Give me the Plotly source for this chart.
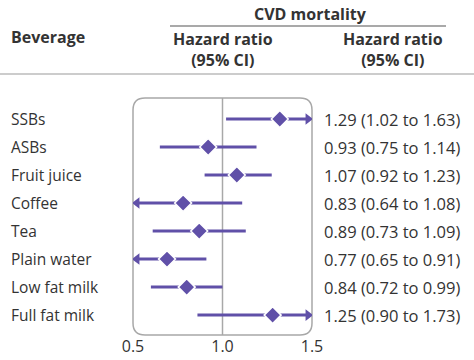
import plotly.graph_objects as go

beverages = ["SSBs", "ASBs", "Fruit juice", "Coffee", "Tea", "Plain water", "Low fat milk", "Full fat milk"]
# plotted positions
hr_point = [1.32, 0.92, 1.08, 0.78, 0.87, 0.69, 0.80, 1.28]
ci_low = [1.02, 0.65, 0.90, 0.45, 0.61, 0.45, 0.60, 0.86]
ci_high = [1.63, 1.19, 1.275, 1.11, 1.13, 0.91, 1.00, 1.73]
# text column
hr_text = ["1.29 (1.02 to 1.63)", "0.93 (0.75 to 1.14)", "1.07 (0.92 to 1.23)", "0.83 (0.64 to 1.08)",
           "0.89 (0.73 to 1.09)", "0.77 (0.65 to 0.91)", "0.84 (0.72 to 0.99)", "1.25 (0.90 to 1.73)"]
x_ticks = [0.5, 1.0, 1.5]
x_tick_labels = ["0.5", "1.0", "1.5"]
x_min, x_max = 0.5, 1.5

PURPLE = "#6050a8"
GRAY = "#a8a8a8"
TEXT = "#333333"
FONT = "Open Sans"

W, H = 474, 360
L, R, T, B = 133, 162, 98, 25
pw, ph = W - L - R, H - T - B

def px(xp):
    return (xp - L) / pw

def py(yp):
    return (H - B - yp) / ph

fig = go.Figure()
ys = list(range(len(beverages)))

for i, b in enumerate(beverages):
    lo = max(ci_low[i], x_min)
    hi = min(ci_high[i], x_max)
    x0 = lo + (0.025 if ci_low[i] < x_min else 0)
    x1 = hi - (0.025 if ci_high[i] > x_max else 0)
    fig.add_trace(go.Scatter(x=[x0, x1], y=[i, i], mode="lines",
                             line=dict(color=PURPLE, width=3), showlegend=False, hoverinfo="skip"))
    if ci_low[i] < x_min:
        fig.add_trace(go.Scatter(x=[x_min + 0.022], y=[i], mode="markers",
                                 marker=dict(symbol="triangle-left", size=10, color=PURPLE, line=dict(width=0)),
                                 showlegend=False, hoverinfo="skip"))
    if ci_high[i] > x_max:
        fig.add_trace(go.Scatter(x=[x_max - 0.022], y=[i], mode="markers",
                                 marker=dict(symbol="triangle-right", size=10, color=PURPLE, line=dict(width=0)),
                                 showlegend=False, hoverinfo="skip"))

fig.add_trace(go.Scatter(x=hr_point, y=ys, mode="markers",
                         marker=dict(symbol="diamond", size=13, color=PURPLE, line=dict(color="white", width=1.5)),
                         showlegend=False, hoverinfo="skip"))

# reference line at 1.0
fig.add_shape(type="line", xref="x", yref="paper", x0=1.0, x1=1.0, y0=0, y1=1,
              line=dict(color=GRAY, width=1.5), layer="below")

# rounded box
rx, ry = 12 / pw, 12 / ph
path = (f"M {rx},0 L {1-rx},0 Q 1,0 1,{ry} L 1,{1-ry} Q 1,1 {1-rx},1 "
        f"L {rx},1 Q 0,1 0,{1-ry} L 0,{ry} Q 0,0 {rx},0 Z")
fig.add_shape(type="path", xref="paper", yref="paper", path=path,
              line=dict(color=GRAY, width=1.5), layer="below")

# header lines
fig.add_shape(type="line", xref="paper", yref="paper", x0=px(170), x1=px(446), y0=py(26), y1=py(26),
              line=dict(color="#555555", width=1.2))
fig.add_shape(type="line", xref="paper", yref="paper", x0=px(0), x1=px(474), y0=py(74), y1=py(74),
              line=dict(color="#bbbbbb", width=1.5))

ann = []
for i, b in enumerate(beverages):
    ann.append(dict(x=px(9), y=i, xref="paper", yref="y", text=b, xanchor="left", yanchor="middle",
                    showarrow=False, font=dict(family=FONT, size=15.5, color=TEXT)))
    ann.append(dict(x=px(322), y=i, xref="paper", yref="y", text=hr_text[i], xanchor="left", yanchor="middle",
                    showarrow=False, font=dict(family=FONT, size=16.5, color=TEXT)))

hdr = dict(family=FONT, size=16, color=TEXT)
ann.append(dict(x=px(9), y=py(37), xref="paper", yref="paper", text="<b>Beverage</b>", xanchor="left",
                yanchor="middle", showarrow=False, font=hdr))
ann.append(dict(x=px(310), y=py(14), xref="paper", yref="paper", text="<b>CVD mortality</b>", xanchor="center",
                yanchor="middle", showarrow=False, font=hdr))
for cx in (223, 393):
    ann.append(dict(x=px(cx), y=py(49), xref="paper", yref="paper", text="<b>Hazard ratio<br>(95% CI)</b>",
                    xanchor="center", yanchor="middle", align="center", showarrow=False, font=hdr))

fig.update_layout(
    width=W, height=H,
    margin=dict(l=L, r=R, t=T, b=B, autoexpand=False),
    paper_bgcolor="white", plot_bgcolor="white",
    annotations=ann,
    xaxis=dict(range=[x_min, x_max], tickvals=x_ticks, ticktext=x_tick_labels, showgrid=False,
               zeroline=False, showline=False, ticks="", tickfont=dict(family=FONT, size=16, color=TEXT),
               ticklabelstandoff=0, fixedrange=True, automargin=False),
    yaxis=dict(range=[7.71, -0.75], showticklabels=False, showgrid=False, zeroline=False,
               showline=False, ticks="", fixedrange=True, automargin=False),
)

fig.write_html("out.html", config={"displayModeBar": False, "staticPlot": True})

# remove the default page margin so the figure sits at the window's top-left corner
with open("out.html", "r", encoding="utf-8") as f:
    html = f.read()
html = html.replace("<head>", "<head><style>html,body{margin:0;padding:0;overflow:hidden}</style>", 1)
with open("out.html", "w", encoding="utf-8") as f:
    f.write(html)
